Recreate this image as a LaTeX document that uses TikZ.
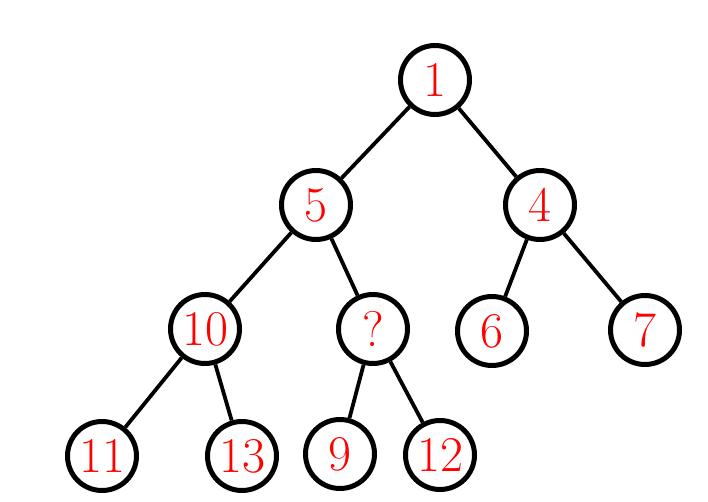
\documentclass[tikz,border=0pt]{standalone}
\begin{document}
\begin{tikzpicture}[x=1pt,y=-1pt,
  tnode/.style={circle,draw=black,line width=5pt,minimum size=69pt,inner sep=0pt,
    text=red,font=\fontsize{50}{50}\selectfont},
  edge/.style={line width=3.8pt,black}]
\useasboundingbox (0,0) rectangle (708,502);
\node[tnode] (n1) at (435,80) {1};
\node[tnode] (n5) at (316,205) {5};
\node[tnode] (n4) at (540,205) {4};
\node[tnode] (n10) at (205,329) {10};
\node[tnode] (nq) at (373,329) {?};
\node[tnode] (n6) at (492,331) {6};
\node[tnode] (n7) at (645,330) {7};
\node[tnode] (n11) at (102,456) {11};
\node[tnode] (n13) at (242,456) {13};
\node[tnode] (n9) at (340,454) {9};
\node[tnode] (n12) at (440,455) {12};
\draw[edge] (n1) -- (n5);
\draw[edge] (n1) -- (n4);
\draw[edge] (n5) -- (n10);
\draw[edge] (n5) -- (nq);
\draw[edge] (n4) -- (n6);
\draw[edge] (n4) -- (n7);
\draw[edge] (n10) -- (n11);
\draw[edge] (n10) -- (n13);
\draw[edge] (nq) -- (n9);
\draw[edge] (nq) -- (n12);
\end{tikzpicture}
\end{document}
